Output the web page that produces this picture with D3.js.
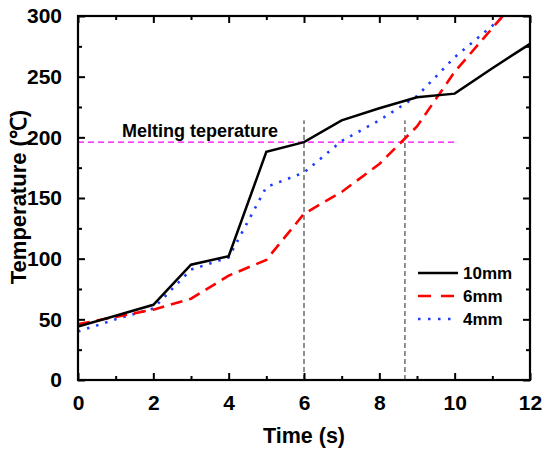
<!DOCTYPE html>
<html><head><meta charset="utf-8">
<script src="https://cdn.jsdelivr.net/npm/d3@7"></script>
<style>body{margin:0;background:#fff}text{font-family:"Liberation Sans",Arial,sans-serif;font-weight:bold}</style>
</head><body><svg id="c" width="550" height="453"></svg>
<script>
const time = [0,1,2,3,4,5,6,7,8,9,10,11,12];
const t10 = [44,53,62,95,102,188,196,214,224,233,236,257,277];
const t6  = [46,52,58,67,86,99,137,155,178,209,254,290,326];
const t4  = [40,50,59,91,101,159,171,197,214,234,266,292,318];
const seriesNames = ["10mm","6mm","4mm"];
const meltTemp = 196, meltEnd = 10;
const vLines = [6, 8.68], vTop = 214;
const xTicks = [0,2,4,6,8,10,12], yTicks = [0,50,100,150,200,250,300];

const svg = d3.select("#c");
const L=78,R=530,T=16,B=380;
const x = d3.scaleLinear().domain([0,12]).range([L,R]);
const y = d3.scaleLinear().domain([0,300]).range([B,T]);

svg.append("clipPath").attr("id","clip").append("rect").attr("x",L).attr("y",T).attr("width",R-L).attr("height",B-T);

// reference lines
svg.append("line").attr("x1",x(0)).attr("x2",x(meltEnd)).attr("y1",y(meltTemp)).attr("y2",y(meltTemp))
  .attr("stroke","#ff00ff").attr("stroke-width",1.3).attr("stroke-dasharray","6,4");
vLines.forEach(v=>svg.append("line").attr("x1",x(v)).attr("x2",x(v)).attr("y1",y(0)).attr("y2",y(vTop))
  .attr("stroke","#222").attr("stroke-width",1).attr("stroke-dasharray","5,3"));

const styles = [
  {c:"#000000",w:2.5,d:null},
  {c:"#ff0000",w:2.6,d:"12,7"},
  {c:"#1f3dff",w:2.6,d:"2.5,7"}
];
const data=[t10,t6,t4];
const line = d3.line().x((d,i)=>x(time[i])).y(d=>y(d));
const g = svg.append("g").attr("clip-path","url(#clip)");
data.slice().reverse().forEach((s,ri)=>{
  const i = data.length-1-ri, st=styles[i];
  g.append("path").datum(s).attr("d",line).attr("fill","none").attr("stroke",st.c)
   .attr("stroke-width",st.w).attr("stroke-dasharray",st.d).attr("stroke-linejoin","miter");
});

// axes
function ax(axis, tx, ty){
  return svg.append("g").attr("transform",`translate(${tx},${ty})`).call(axis);
}
const xMinor = d3.range(1,12,2), yMinor = d3.range(25,300,50);
ax(d3.axisBottom(x).tickValues(xTicks).tickSize(-7).tickPadding(15).tickFormat(d3.format("d")),0,B);
ax(d3.axisBottom(x).tickValues(xMinor).tickSize(-4).tickFormat(""),0,B);
ax(d3.axisLeft(y).tickValues(yTicks).tickSize(-7).tickPadding(16).tickFormat(d3.format("d")),L,0);
ax(d3.axisLeft(y).tickValues(yMinor).tickSize(-4).tickFormat(""),L,0);
ax(d3.axisTop(x).tickValues(xTicks).tickSize(-7).tickFormat(""),0,T);
ax(d3.axisTop(x).tickValues(xMinor).tickSize(-4).tickFormat(""),0,T);
ax(d3.axisRight(y).tickValues(yTicks).tickSize(-7).tickFormat(""),R,0);
ax(d3.axisRight(y).tickValues(yMinor).tickSize(-4).tickFormat(""),R,0);
svg.selectAll(".domain").remove();
svg.selectAll(".tick line").attr("stroke","#000").attr("stroke-width",2);
svg.selectAll(".tick text").attr("font-size",21).attr("fill","#000").attr("font-family","Liberation Sans, Arial, sans-serif").attr("font-weight","bold");
svg.append("rect").attr("x",L).attr("y",T).attr("width",R-L).attr("height",B-T)
  .attr("fill","none").attr("stroke","#000").attr("stroke-width",2.2);

// titles
svg.append("text").attr("x",x(6)).attr("y",443).attr("text-anchor","middle").attr("font-size",21.5).text("Time (s)");
svg.append("text").attr("transform",`translate(26,197) rotate(-90)`).attr("text-anchor","middle").attr("font-size",22).text("Temperature (℃)");
svg.append("text").attr("x",122).attr("y",137).attr("font-size",18).text("Melting teperature");

// legend
const lg = svg.append("g");
seriesNames.forEach((n,i)=>{
  const yy = 273+i*23, st=styles[i];
  lg.append("line").attr("x1",418).attr("x2",458).attr("y1",yy).attr("y2",yy)
    .attr("stroke",st.c).attr("stroke-width",st.w).attr("stroke-dasharray",st.d?(i==1?"13,10":"2.5,7.5"):null);
  lg.append("text").attr("x",463).attr("y",yy+6).attr("font-size",17).text(n);
});
</script></body></html>
